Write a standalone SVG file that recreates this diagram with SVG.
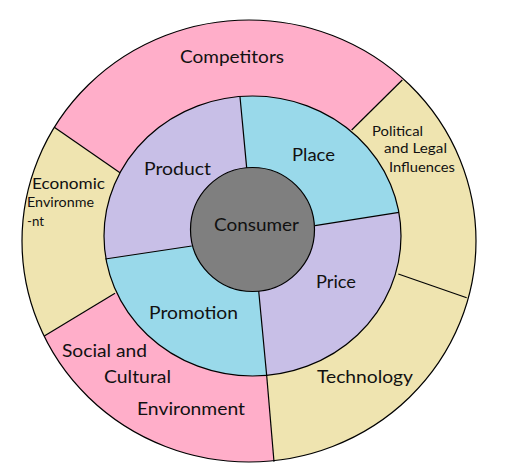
<svg xmlns="http://www.w3.org/2000/svg" width="511" height="472" viewBox="0 0 511 472">
<style>
.pink{fill:#FFAEC9}.tan{fill:#EFE4B0}.lav{fill:#C8BFE7}.blue{fill:#99D9EA}
.div{stroke:#000;stroke-width:1.2;fill:none}
.ring{fill:none;stroke:#000;stroke-width:1.2}
text{font-family:Lato,"Open Sans","Liberation Sans",sans-serif;fill:#111}
.big{font-size:18px}.mid{font-size:16px}.sm{font-size:14px}.xs{font-size:13px}
</style>
<defs>
<clipPath id="outerClip"><ellipse cx="249" cy="241" rx="227" ry="221"/></clipPath>
<clipPath id="midClip"><ellipse cx="252.5" cy="236" rx="148.5" ry="140"/></clipPath>
</defs>
<rect width="511" height="472" fill="#fff"/>
<g clip-path="url(#outerClip)">
<g id="competitors"><polygon class="pink" points="252,236 120,172.7 -20,75.9 -20,-20 503.5,-20 351.7,130"/></g>
<g id="political"><polygon class="tan" points="252,236 351.7,130 503.5,-20 530,-20 530,319.6 398.3,274"/></g>
<g id="technology"><polygon class="tan" points="252,236 398.3,274 530,319.6 530,500 277.2,500 266.7,375.7"/></g>
<g id="social"><polygon class="pink" points="252,236 266.7,375.7 277.2,500 -20,500 -20,374.8 115,293.3"/></g>
<g id="economic"><polygon class="tan" points="252,236 115,293.3 -20,374.8 -20,75.9 120,172.7"/></g>
</g>
<g id="connectors-outer">
<line class="div" x1="120" y1="172.7" x2="54.3" y2="127.3"/>
<line class="div" x1="351.7" y1="130" x2="402.3" y2="80"/>
<line class="div" x1="398.3" y1="274" x2="466.7" y2="297.7"/>
<line class="div" x1="266.7" y1="375.7" x2="274" y2="461.7"/>
<line class="div" x1="115" y1="293.3" x2="44.3" y2="336"/>
</g>
<ellipse class="ring" cx="249" cy="241" rx="227" ry="221"/>
<g clip-path="url(#midClip)">
<g id="product"><polygon class="lav" points="252.5,229.5 191.7,246 50,267.3 50,50 235.6,50 246.7,168"/></g>
<g id="place"><polygon class="blue" points="252.5,229.5 246.7,168 235.6,50 460,50 460,202.6 315,225.7"/></g>
<g id="price"><polygon class="lav" points="252.5,229.5 315,225.7 460,202.6 460,420 270.9,420 258.7,291"/></g>
<g id="promotion"><polygon class="blue" points="252.5,229.5 258.7,291 270.9,420 50,420 50,267.3 191.7,246"/></g>
</g>
<g id="connectors-middle">
<line class="div" x1="240" y1="96.7" x2="246.7" y2="168"/>
<line class="div" x1="315" y1="225.7" x2="399" y2="212.3"/>
<line class="div" x1="258.7" y1="291" x2="266.7" y2="375.7"/>
<line class="div" x1="191.7" y1="246" x2="105.3" y2="259"/>
</g>
<ellipse class="ring" cx="252.5" cy="236" rx="148.5" ry="140"/>
<g id="consumer">
<circle cx="252.5" cy="229.5" r="62" fill="#7F7F7F" stroke="#000" stroke-width="1.2"/>
<text class="big" x="214" y="231" textLength="85" lengthAdjust="spacingAndGlyphs">Consumer</text>
</g>
<g id="labels">
<text class="big" x="180" y="63" textLength="104" lengthAdjust="spacingAndGlyphs">Competitors</text>
<text class="big" x="144" y="175" textLength="67" lengthAdjust="spacingAndGlyphs">Product</text>
<text class="big" x="292" y="161" textLength="43" lengthAdjust="spacingAndGlyphs">Place</text>
<text class="big" x="316" y="288" textLength="40" lengthAdjust="spacingAndGlyphs">Price</text>
<text class="big" x="149" y="319" textLength="89" lengthAdjust="spacingAndGlyphs">Promotion</text>
<text class="xs" x="372" y="136" textLength="51" lengthAdjust="spacingAndGlyphs">Political</text>
<text class="xs" x="384" y="153" textLength="63" lengthAdjust="spacingAndGlyphs">and Legal</text>
<text class="xs" x="389" y="172" textLength="66" lengthAdjust="spacingAndGlyphs">Influences</text>
<text class="mid" x="32" y="189" textLength="73" lengthAdjust="spacingAndGlyphs">Economic</text>
<text class="xs" x="27" y="207" textLength="67" lengthAdjust="spacingAndGlyphs">Environme</text>
<text class="xs" x="27" y="226" textLength="17" lengthAdjust="spacingAndGlyphs">-nt</text>
<text class="big" x="62" y="357" textLength="85" lengthAdjust="spacingAndGlyphs">Social and</text>
<text class="big" x="104" y="383" textLength="67" lengthAdjust="spacingAndGlyphs">Cultural</text>
<text class="big" x="137" y="415" textLength="108" lengthAdjust="spacingAndGlyphs">Environment</text>
<text class="big" x="317" y="383" textLength="96" lengthAdjust="spacingAndGlyphs">Technology</text>
</g>
</svg>
